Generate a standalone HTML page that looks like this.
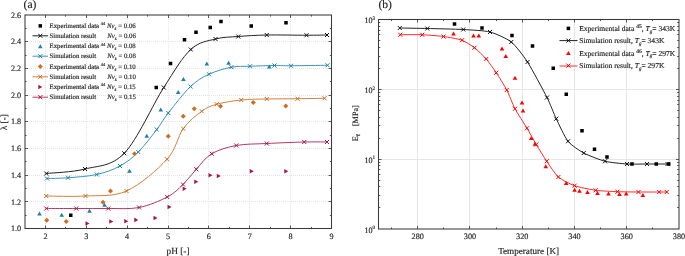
<!DOCTYPE html>
<html><head><meta charset="utf-8"><title>Figure</title>
<style>
html,body{margin:0;padding:0;background:#fff;}
body{width:685px;height:256px;overflow:hidden;}
svg{display:block;}
text{font-family:'Liberation Serif','Times New Roman',serif;font-size:8.2px;fill:#222;text-rendering:geometricPrecision;stroke:#222;stroke-width:0.15px;}
.lg{font-size:6.8px;}
.rg{font-size:7.55px;}
</style></head><body>
<svg width="685" height="256" viewBox="0 0 685 256">
<path d="M45.5,15V228.5M86.5,15V228.5M127.5,15V228.5M168.5,15V228.5M208.5,15V228.5M249.5,15V228.5M290.5,15V228.5M25,201.5H331.5M25,175.5H331.5M25,148.5H331.5M25,121.5H331.5M25,95.5H331.5M25,68.5H331.5M25,41.5H331.5" stroke="#e4e4e4" stroke-width="1" stroke-dasharray="1 1" fill="none"/>
<path d="M45.5,228.5v-3M45.5,15v3M65.5,228.5v-1.6M65.5,15v1.6M86.5,228.5v-3M86.5,15v3M106.5,228.5v-1.6M106.5,15v1.6M127.5,228.5v-3M127.5,15v3M147.5,228.5v-1.6M147.5,15v1.6M168.5,228.5v-3M168.5,15v3M188.5,228.5v-1.6M188.5,15v1.6M208.5,228.5v-3M208.5,15v3M229.5,228.5v-1.6M229.5,15v1.6M249.5,228.5v-3M249.5,15v3M270.5,228.5v-1.6M270.5,15v1.6M290.5,228.5v-3M290.5,15v3M311.5,228.5v-1.6M311.5,15v1.6M25,215.5h1.6M331.5,215.5h-1.6M25,201.5h3M331.5,201.5h-3M25,188.5h1.6M331.5,188.5h-1.6M25,175.5h3M331.5,175.5h-3M25,161.5h1.6M331.5,161.5h-1.6M25,148.5h3M331.5,148.5h-3M25,135.5h1.6M331.5,135.5h-1.6M25,121.5h3M331.5,121.5h-3M25,108.5h1.6M331.5,108.5h-1.6M25,95.5h3M331.5,95.5h-3M25,81.5h1.6M331.5,81.5h-1.6M25,68.5h3M331.5,68.5h-3M25,55.5h1.6M331.5,55.5h-1.6M25,41.5h3M331.5,41.5h-3M25,28.5h1.6M331.5,28.5h-1.6" stroke="#444" stroke-width="0.9" fill="none"/>
<rect x="25" y="15" width="306.5" height="213.5" fill="none" stroke="#3a3a3a" stroke-width="1.05"/>
<text x="45.43" y="238.8" text-anchor="middle">2</text>
<text x="86.3" y="238.8" text-anchor="middle">3</text>
<text x="127.17" y="238.8" text-anchor="middle">4</text>
<text x="168.03" y="238.8" text-anchor="middle">5</text>
<text x="208.9" y="238.8" text-anchor="middle">6</text>
<text x="249.77" y="238.8" text-anchor="middle">7</text>
<text x="290.63" y="238.8" text-anchor="middle">8</text>
<text x="331.5" y="238.8" text-anchor="middle">9</text>
<text x="21.2" y="231.2" text-anchor="end">1.0</text>
<text x="21.2" y="204.51" text-anchor="end">1.2</text>
<text x="21.2" y="177.82" text-anchor="end">1.4</text>
<text x="21.2" y="151.14" text-anchor="end">1.6</text>
<text x="21.2" y="124.45" text-anchor="end">1.8</text>
<text x="21.2" y="97.76" text-anchor="end">2.0</text>
<text x="21.2" y="71.07" text-anchor="end">2.2</text>
<text x="21.2" y="44.39" text-anchor="end">2.4</text>
<text x="21.2" y="17.7" text-anchor="end">2.6</text>
<path d="M46.25,173.5 C52.71,172.75 72,172.38 85,169 C98,165.62 111.12,166.83 124.25,153.25 C137.38,139.67 152.67,104.79 163.75,87.5 C174.83,70.21 182.12,57.58 190.75,49.5 C199.38,41.42 207.58,41.17 215.5,39 C223.42,36.83 229.71,37.17 238.25,36.5 C246.79,35.83 255.38,35.21 266.75,35 C278.12,34.79 296.46,35.25 306.5,35.25 C316.54,35.25 323.58,35.04 327,35" stroke="#222" stroke-width="1" fill="none"/>
<path d="M47,178.5 C50.5,178.38 59.71,178.42 68,177.75 C76.29,177.08 88.08,176.46 96.75,174.5 C105.42,172.54 113.08,169.75 120,166 C126.92,162.25 132.12,158.08 138.25,152 C144.38,145.92 151.75,136 156.75,129.5 C161.75,123 162.61,120.17 168.25,113 C173.89,105.83 183.81,92.96 190.6,86.5 C197.39,80.04 202.2,77.47 209,74.25 C215.8,71.03 224.57,68.53 231.4,67.2 C238.23,65.87 242.82,66.53 250,66.25 C257.18,65.97 267.67,65.58 274.5,65.5 C281.33,65.42 282.17,65.79 291,65.75 C299.83,65.71 321.42,65.33 327.5,65.25" stroke="#3a95bd" stroke-width="1" fill="none"/>
<path d="M46.25,196 C52.79,196 72.12,196.83 85.5,196 C98.88,195.17 112.92,197.12 126.5,191 C140.08,184.88 157.54,169.62 167,159.25 C176.46,148.88 177.46,136.75 183.25,128.75 C189.04,120.75 196.17,115.33 201.75,111.25 C207.33,107.17 210.17,106.12 216.75,104.25 C223.33,102.38 232.92,100.88 241.25,100 C249.58,99.12 257.38,99.21 266.75,99 C276.12,98.79 287.88,98.88 297.5,98.75 C307.12,98.62 320,98.33 324.5,98.25" stroke="#d4813a" stroke-width="1" fill="none"/>
<path d="M46.25,208.5 C51.25,208.5 65.92,208.5 76.25,208.5 C86.58,208.5 97.78,208.67 108.25,208.5 C118.72,208.33 129.28,209.42 139.1,207.5 C148.92,205.58 159.88,200.83 167.2,197 C174.52,193.17 178.16,189.12 183,184.5 C187.84,179.88 191.46,174.38 196.25,169.25 C201.04,164.12 205.08,157.71 211.75,153.75 C218.42,149.79 227.08,147.21 236.25,145.5 C245.42,143.79 255.42,144.08 266.75,143.5 C278.08,142.92 294.21,142.25 304.25,142 C314.29,141.75 323.21,142 327,142" stroke="#b23a62" stroke-width="1" fill="none"/>
<path d="M44.25,171.5L48.25,175.5M44.25,175.5L48.25,171.5" stroke="#111" stroke-width="1.0" fill="none"/>
<path d="M83,167L87,171M83,171L87,167" stroke="#111" stroke-width="1.0" fill="none"/>
<path d="M122.25,151.25L126.25,155.25M122.25,155.25L126.25,151.25" stroke="#111" stroke-width="1.0" fill="none"/>
<path d="M161.75,85.5L165.75,89.5M161.75,89.5L165.75,85.5" stroke="#111" stroke-width="1.0" fill="none"/>
<path d="M188.75,47.5L192.75,51.5M188.75,51.5L192.75,47.5" stroke="#111" stroke-width="1.0" fill="none"/>
<path d="M213.5,37L217.5,41M213.5,41L217.5,37" stroke="#111" stroke-width="1.0" fill="none"/>
<path d="M236.25,34.5L240.25,38.5M236.25,38.5L240.25,34.5" stroke="#111" stroke-width="1.0" fill="none"/>
<path d="M264.75,33L268.75,37M264.75,37L268.75,33" stroke="#111" stroke-width="1.0" fill="none"/>
<path d="M304.5,33.25L308.5,37.25M304.5,37.25L308.5,33.25" stroke="#111" stroke-width="1.0" fill="none"/>
<path d="M325,33L329,37M325,37L329,33" stroke="#111" stroke-width="1.0" fill="none"/>
<path d="M45,176.5L49,180.5M45,180.5L49,176.5" stroke="#1f80a8" stroke-width="1.0" fill="none"/>
<path d="M66,175.75L70,179.75M66,179.75L70,175.75" stroke="#1f80a8" stroke-width="1.0" fill="none"/>
<path d="M94.75,172.5L98.75,176.5M94.75,176.5L98.75,172.5" stroke="#1f80a8" stroke-width="1.0" fill="none"/>
<path d="M118,164L122,168M118,168L122,164" stroke="#1f80a8" stroke-width="1.0" fill="none"/>
<path d="M136.25,150L140.25,154M136.25,154L140.25,150" stroke="#1f80a8" stroke-width="1.0" fill="none"/>
<path d="M154.75,127.5L158.75,131.5M154.75,131.5L158.75,127.5" stroke="#1f80a8" stroke-width="1.0" fill="none"/>
<path d="M166.25,111L170.25,115M166.25,115L170.25,111" stroke="#1f80a8" stroke-width="1.0" fill="none"/>
<path d="M188.6,84.5L192.6,88.5M188.6,88.5L192.6,84.5" stroke="#1f80a8" stroke-width="1.0" fill="none"/>
<path d="M207,72.25L211,76.25M207,76.25L211,72.25" stroke="#1f80a8" stroke-width="1.0" fill="none"/>
<path d="M229.4,65.2L233.4,69.2M229.4,69.2L233.4,65.2" stroke="#1f80a8" stroke-width="1.0" fill="none"/>
<path d="M248,64.25L252,68.25M248,68.25L252,64.25" stroke="#1f80a8" stroke-width="1.0" fill="none"/>
<path d="M272.5,63.5L276.5,67.5M272.5,67.5L276.5,63.5" stroke="#1f80a8" stroke-width="1.0" fill="none"/>
<path d="M289,63.75L293,67.75M289,67.75L293,63.75" stroke="#1f80a8" stroke-width="1.0" fill="none"/>
<path d="M325.5,63.25L329.5,67.25M325.5,67.25L329.5,63.25" stroke="#1f80a8" stroke-width="1.0" fill="none"/>
<path d="M44.25,194L48.25,198M44.25,198L48.25,194" stroke="#cc6d22" stroke-width="1.0" fill="none"/>
<path d="M83.5,194L87.5,198M83.5,198L87.5,194" stroke="#cc6d22" stroke-width="1.0" fill="none"/>
<path d="M124.5,189L128.5,193M124.5,193L128.5,189" stroke="#cc6d22" stroke-width="1.0" fill="none"/>
<path d="M165,157.25L169,161.25M165,161.25L169,157.25" stroke="#cc6d22" stroke-width="1.0" fill="none"/>
<path d="M181.25,126.75L185.25,130.75M181.25,130.75L185.25,126.75" stroke="#cc6d22" stroke-width="1.0" fill="none"/>
<path d="M199.75,109.25L203.75,113.25M199.75,113.25L203.75,109.25" stroke="#cc6d22" stroke-width="1.0" fill="none"/>
<path d="M214.75,102.25L218.75,106.25M214.75,106.25L218.75,102.25" stroke="#cc6d22" stroke-width="1.0" fill="none"/>
<path d="M239.25,98L243.25,102M239.25,102L243.25,98" stroke="#cc6d22" stroke-width="1.0" fill="none"/>
<path d="M264.75,97L268.75,101M264.75,101L268.75,97" stroke="#cc6d22" stroke-width="1.0" fill="none"/>
<path d="M295.5,96.75L299.5,100.75M295.5,100.75L299.5,96.75" stroke="#cc6d22" stroke-width="1.0" fill="none"/>
<path d="M322.5,96.25L326.5,100.25M322.5,100.25L326.5,96.25" stroke="#cc6d22" stroke-width="1.0" fill="none"/>
<path d="M44.25,206.5L48.25,210.5M44.25,210.5L48.25,206.5" stroke="#a8154a" stroke-width="1.0" fill="none"/>
<path d="M74.25,206.5L78.25,210.5M74.25,210.5L78.25,206.5" stroke="#a8154a" stroke-width="1.0" fill="none"/>
<path d="M106.25,206.5L110.25,210.5M106.25,210.5L110.25,206.5" stroke="#a8154a" stroke-width="1.0" fill="none"/>
<path d="M137.1,205.5L141.1,209.5M137.1,209.5L141.1,205.5" stroke="#a8154a" stroke-width="1.0" fill="none"/>
<path d="M165.2,195L169.2,199M165.2,199L169.2,195" stroke="#a8154a" stroke-width="1.0" fill="none"/>
<path d="M181,182.5L185,186.5M181,186.5L185,182.5" stroke="#a8154a" stroke-width="1.0" fill="none"/>
<path d="M194.25,167.25L198.25,171.25M194.25,171.25L198.25,167.25" stroke="#a8154a" stroke-width="1.0" fill="none"/>
<path d="M209.75,151.75L213.75,155.75M209.75,155.75L213.75,151.75" stroke="#a8154a" stroke-width="1.0" fill="none"/>
<path d="M234.25,143.5L238.25,147.5M234.25,147.5L238.25,143.5" stroke="#a8154a" stroke-width="1.0" fill="none"/>
<path d="M264.75,141.5L268.75,145.5M264.75,145.5L268.75,141.5" stroke="#a8154a" stroke-width="1.0" fill="none"/>
<path d="M302.25,140L306.25,144M302.25,144L306.25,140" stroke="#a8154a" stroke-width="1.0" fill="none"/>
<path d="M325,140L329,144M325,144L329,140" stroke="#a8154a" stroke-width="1.0" fill="none"/>
<rect x="69" y="213.5" width="3.5" height="3.5" fill="#000"/>
<rect x="154.5" y="85.75" width="3.5" height="3.5" fill="#000"/>
<rect x="168.75" y="61.75" width="3.5" height="3.5" fill="#000"/>
<rect x="182.75" y="38" width="3.5" height="3.5" fill="#000"/>
<rect x="194.25" y="30.5" width="3.5" height="3.5" fill="#000"/>
<rect x="208.5" y="25.75" width="3.5" height="3.5" fill="#000"/>
<rect x="219.25" y="19.75" width="3.5" height="3.5" fill="#000"/>
<rect x="249.5" y="24.25" width="3.5" height="3.5" fill="#000"/>
<rect x="284.25" y="21" width="3.5" height="3.5" fill="#000"/>
<path d="M39.5,211.5L41.8,215.5L37.2,215.5Z" fill="#1f80a8"/>
<path d="M61.75,212.75L64.05,216.75L59.45,216.75Z" fill="#1f80a8"/>
<path d="M89.5,208.75L91.8,212.75L87.2,212.75Z" fill="#1f80a8"/>
<path d="M104.5,202.75L106.8,206.75L102.2,206.75Z" fill="#1f80a8"/>
<path d="M129.5,168.75L131.8,172.75L127.2,172.75Z" fill="#1f80a8"/>
<path d="M146.75,133.75L149.05,137.75L144.45,137.75Z" fill="#1f80a8"/>
<path d="M160.75,107.5L163.05,111.5L158.45,111.5Z" fill="#1f80a8"/>
<path d="M178.2,90L180.5,94L175.9,94Z" fill="#1f80a8"/>
<path d="M183.4,77L185.7,81L181.1,81Z" fill="#1f80a8"/>
<path d="M206.8,61.4L209.1,65.4L204.5,65.4Z" fill="#1f80a8"/>
<path d="M228.6,60.7L230.9,64.7L226.3,64.7Z" fill="#1f80a8"/>
<path d="M269.25,64.5L271.55,68.5L266.95,68.5Z" fill="#1f80a8"/>
<path d="M46.75,217.75L49.25,220.25L46.75,222.75L44.25,220.25Z" fill="#cc6d22"/>
<path d="M66.25,219L68.75,221.5L66.25,224L63.75,221.5Z" fill="#cc6d22"/>
<path d="M103,199.75L105.5,202.25L103,204.75L100.5,202.25Z" fill="#cc6d22"/>
<path d="M110.5,188.5L113,191L110.5,193.5L108,191Z" fill="#cc6d22"/>
<path d="M134.5,151.25L137,153.75L134.5,156.25L132,153.75Z" fill="#cc6d22"/>
<path d="M168.25,133.75L170.75,136.25L168.25,138.75L165.75,136.25Z" fill="#cc6d22"/>
<path d="M183.25,113.75L185.75,116.25L183.25,118.75L180.75,116.25Z" fill="#cc6d22"/>
<path d="M194.25,106.25L196.75,108.75L194.25,111.25L191.75,108.75Z" fill="#cc6d22"/>
<path d="M220.5,103.75L223,106.25L220.5,108.75L218,106.25Z" fill="#cc6d22"/>
<path d="M253.25,100L255.75,102.5L253.25,105L250.75,102.5Z" fill="#cc6d22"/>
<path d="M285.75,103.5L288.25,106L285.75,108.5L283.25,106Z" fill="#cc6d22"/>
<path d="M89.5,223.5L85.5,221.2L85.5,225.8Z" fill="#a8154a"/>
<path d="M113.25,221.5L109.25,219.2L109.25,223.8Z" fill="#a8154a"/>
<path d="M128.25,221.3L124.25,219L124.25,223.6Z" fill="#a8154a"/>
<path d="M138.25,219.9L134.25,217.6L134.25,222.2Z" fill="#a8154a"/>
<path d="M157.5,218L153.5,215.7L153.5,220.3Z" fill="#a8154a"/>
<path d="M171.5,207L167.5,204.7L167.5,209.3Z" fill="#a8154a"/>
<path d="M186.6,188.75L182.6,186.45L182.6,191.05Z" fill="#a8154a"/>
<path d="M198.25,181.7L194.25,179.4L194.25,184Z" fill="#a8154a"/>
<path d="M212.5,175.3L208.5,173L208.5,177.6Z" fill="#a8154a"/>
<path d="M220.75,176L216.75,173.7L216.75,178.3Z" fill="#a8154a"/>
<path d="M253.75,171.25L249.75,168.95L249.75,173.55Z" fill="#a8154a"/>
<path d="M288.25,171.25L284.25,168.95L284.25,173.55Z" fill="#a8154a"/>
<rect x="38.55" y="24.15" width="3.5" height="3.5" fill="#000"/>
<text class="lg" x="49.5" y="27.9">Experimental data <tspan font-size="4.5" dy="-2.6">44</tspan><tspan dy="2.6"> </tspan><tspan font-style="italic">Nv</tspan><tspan font-style="italic" font-size="5" dy="2">s</tspan><tspan dy="-2"> = 0.06</tspan></text>
<path d="M32.5,35.8H48" stroke="#222" stroke-width="1"/>
<path d="M38.3,33.8L42.3,37.8M38.3,37.8L42.3,33.8" stroke="#111" stroke-width="1.0" fill="none"/>
<text class="lg" x="49.5" y="37.8">Simulation result</text>
<text class="lg" x="107.2" y="37.8"><tspan font-style="italic">Nv</tspan><tspan font-style="italic" font-size="5" dy="2">s</tspan><tspan dy="-2"> = 0.06</tspan></text>
<path d="M40.3,44.2L42.6,48.2L38,48.2Z" fill="#1f80a8"/>
<text class="lg" x="49.5" y="48.2">Experimental data <tspan font-size="4.5" dy="-2.6">44</tspan><tspan dy="2.6"> </tspan><tspan font-style="italic">Nv</tspan><tspan font-style="italic" font-size="5" dy="2">s</tspan><tspan dy="-2"> = 0.08</tspan></text>
<path d="M32.5,56.2H48" stroke="#3a95bd" stroke-width="1"/>
<path d="M38.3,54.2L42.3,58.2M38.3,58.2L42.3,54.2" stroke="#1f80a8" stroke-width="1.0" fill="none"/>
<text class="lg" x="49.5" y="58.2">Simulation result</text>
<text class="lg" x="107.2" y="58.2"><tspan font-style="italic">Nv</tspan><tspan font-style="italic" font-size="5" dy="2">s</tspan><tspan dy="-2"> = 0.08</tspan></text>
<path d="M40.3,64.1L42.8,66.6L40.3,69.1L37.8,66.6Z" fill="#cc6d22"/>
<text class="lg" x="49.5" y="68.6">Experimental data <tspan font-size="4.5" dy="-2.6">44</tspan><tspan dy="2.6"> </tspan><tspan font-style="italic">Nv</tspan><tspan font-style="italic" font-size="5" dy="2">s</tspan><tspan dy="-2"> = 0.10</tspan></text>
<path d="M32.5,76.8H48" stroke="#d4813a" stroke-width="1"/>
<path d="M38.3,74.8L42.3,78.8M38.3,78.8L42.3,74.8" stroke="#cc6d22" stroke-width="1.0" fill="none"/>
<text class="lg" x="49.5" y="78.8">Simulation result</text>
<text class="lg" x="107.2" y="78.8"><tspan font-style="italic">Nv</tspan><tspan font-style="italic" font-size="5" dy="2">s</tspan><tspan dy="-2"> = 0.10</tspan></text>
<path d="M42.3,87L38.3,84.7L38.3,89.3Z" fill="#a8154a"/>
<text class="lg" x="49.5" y="89">Experimental data <tspan font-size="4.5" dy="-2.6">44</tspan><tspan dy="2.6"> </tspan><tspan font-style="italic">Nv</tspan><tspan font-style="italic" font-size="5" dy="2">s</tspan><tspan dy="-2"> = 0.15</tspan></text>
<path d="M32.5,97.2H48" stroke="#b23a62" stroke-width="1"/>
<path d="M38.3,95.2L42.3,99.2M38.3,99.2L42.3,95.2" stroke="#a8154a" stroke-width="1.0" fill="none"/>
<text class="lg" x="49.5" y="99.2">Simulation result</text>
<text class="lg" x="107.2" y="99.2"><tspan font-style="italic">Nv</tspan><tspan font-style="italic" font-size="5" dy="2">s</tspan><tspan dy="-2"> = 0.15</tspan></text>
<text x="23.6" y="8.4" style="font-size:11.6px">(a)</text>
<text x="178" y="253.8" style="font-size:9.3px" text-anchor="middle">pH [-]</text>
<text transform="translate(7.3,122.2) rotate(-90)" style="font-size:9.2px" text-anchor="middle">λ [-]</text>
<path d="M417.5,19.5V229M469.5,19.5V229M522.5,19.5V229M574.5,19.5V229M626.5,19.5V229M378.5,159.5H679M378.5,89.5H679" stroke="#e6e6e6" stroke-width="1" fill="none"/>
<path d="M391.5,229v-1.6M391.5,19.5v1.6M417.5,229v-3M417.5,19.5v3M443.5,229v-1.6M443.5,19.5v1.6M469.5,229v-3M469.5,19.5v3M496.5,229v-1.6M496.5,19.5v1.6M522.5,229v-3M522.5,19.5v3M548.5,229v-1.6M548.5,19.5v1.6M574.5,229v-3M574.5,19.5v3M600.5,229v-1.6M600.5,19.5v1.6M626.5,229v-3M626.5,19.5v3M652.5,229v-1.6M652.5,19.5v1.6M378.5,207.5h1.8M679,207.5h-1.8M378.5,195.5h1.8M679,195.5h-1.8M378.5,186.5h1.8M679,186.5h-1.8M378.5,180.5h1.8M679,180.5h-1.8M378.5,174.5h1.8M679,174.5h-1.8M378.5,169.5h1.8M679,169.5h-1.8M378.5,165.5h1.8M679,165.5h-1.8M378.5,162.5h1.8M679,162.5h-1.8M378.5,159.5h3M679,159.5h-3M378.5,138.5h1.8M679,138.5h-1.8M378.5,125.5h1.8M679,125.5h-1.8M378.5,117.5h1.8M679,117.5h-1.8M378.5,110.5h1.8M679,110.5h-1.8M378.5,104.5h1.8M679,104.5h-1.8M378.5,100.5h1.8M679,100.5h-1.8M378.5,96.5h1.8M679,96.5h-1.8M378.5,92.5h1.8M679,92.5h-1.8M378.5,89.5h3M679,89.5h-3M378.5,68.5h1.8M679,68.5h-1.8M378.5,56.5h1.8M679,56.5h-1.8M378.5,47.5h1.8M679,47.5h-1.8M378.5,40.5h1.8M679,40.5h-1.8M378.5,34.5h1.8M679,34.5h-1.8M378.5,30.5h1.8M679,30.5h-1.8M378.5,26.5h1.8M679,26.5h-1.8M378.5,22.5h1.8M679,22.5h-1.8" stroke="#444" stroke-width="0.9" fill="none"/>
<rect x="378.5" y="19.5" width="300.5" height="209.5" fill="none" stroke="#3a3a3a" stroke-width="1.05"/>
<text x="417.7" y="238.8" text-anchor="middle">280</text>
<text x="469.96" y="238.8" text-anchor="middle">300</text>
<text x="522.22" y="238.8" text-anchor="middle">320</text>
<text x="574.48" y="238.8" text-anchor="middle">340</text>
<text x="626.74" y="238.8" text-anchor="middle">360</text>
<text x="679" y="238.8" text-anchor="middle">380</text>
<text x="364.4" y="232.5">10<tspan font-size="5.2" dy="-3.3">0</tspan></text>
<text x="364.4" y="162.67">10<tspan font-size="5.2" dy="-3.3">1</tspan></text>
<text x="364.4" y="92.83">10<tspan font-size="5.2" dy="-3.3">2</tspan></text>
<text x="364.4" y="23">10<tspan font-size="5.2" dy="-3.3">3</tspan></text>
<path d="M399.75,28 C402.81,28.06 420.19,28.33 427.25,28.5 C434.31,28.67 456.28,29.11 463.25,29.5 C470.22,29.89 484.67,30.61 490,32 C495.33,33.39 507.08,38.67 511.25,42 C515.42,45.33 523.53,55.83 527.5,62 C531.47,68.17 543.81,91.19 547,97.5 C550.19,103.81 553.92,113.89 556.25,118.75 C558.58,123.61 564.94,137.44 568,141.25 C571.06,145.06 579.64,150.78 583.75,153 C587.86,155.22 600.19,160.03 605,161.25 C609.81,162.47 622.33,163.69 627,164 C631.67,164.31 642.5,164 647,164 C651.5,164 665.22,164 667.5,164" stroke="#222" stroke-width="1" fill="none"/>
<path d="M400.25,34.75 C402.69,34.75 417.44,34.56 422.25,34.75 C427.06,34.94 439.08,35.89 443.5,36.5 C447.92,37.11 458.56,39 462,40.25 C465.44,41.5 471.81,45.67 474.5,47.75 C477.19,49.83 483.83,56.22 486.25,59 C488.67,61.78 493.97,69.31 496.25,72.75 C498.53,76.19 504.67,86 506.75,90 C508.83,94 512.75,104.5 515,108.75 C517.25,113 524.64,124.28 527,128.25 C529.36,132.22 534.06,140.83 536.25,144.5 C538.44,148.17 544.29,157.64 546.75,161.25 C549.21,164.86 555.31,174.28 558.4,177 C561.49,179.72 570.47,184.22 574.6,185.7 C578.73,187.18 590.84,189.63 595.6,190.3 C600.36,190.97 612.63,191.51 617.4,191.7 C622.17,191.89 633.85,191.97 638.5,192 C643.15,192.03 656.11,192 659.25,192 C662.39,192 665.92,192 666.75,192" stroke="#ff2a2a" stroke-width="1" fill="none"/>
<path d="M397.75,26L401.75,30M397.75,30L401.75,26" stroke="#111" stroke-width="1.0" fill="none"/>
<path d="M425.25,26.5L429.25,30.5M425.25,30.5L429.25,26.5" stroke="#111" stroke-width="1.0" fill="none"/>
<path d="M461.25,27.5L465.25,31.5M461.25,31.5L465.25,27.5" stroke="#111" stroke-width="1.0" fill="none"/>
<path d="M488,30L492,34M488,34L492,30" stroke="#111" stroke-width="1.0" fill="none"/>
<path d="M509.25,40L513.25,44M509.25,44L513.25,40" stroke="#111" stroke-width="1.0" fill="none"/>
<path d="M525.5,60L529.5,64M525.5,64L529.5,60" stroke="#111" stroke-width="1.0" fill="none"/>
<path d="M545,95.5L549,99.5M545,99.5L549,95.5" stroke="#111" stroke-width="1.0" fill="none"/>
<path d="M554.25,116.75L558.25,120.75M554.25,120.75L558.25,116.75" stroke="#111" stroke-width="1.0" fill="none"/>
<path d="M566,139.25L570,143.25M566,143.25L570,139.25" stroke="#111" stroke-width="1.0" fill="none"/>
<path d="M581.75,151L585.75,155M581.75,155L585.75,151" stroke="#111" stroke-width="1.0" fill="none"/>
<path d="M603,159.25L607,163.25M603,163.25L607,159.25" stroke="#111" stroke-width="1.0" fill="none"/>
<path d="M625,162L629,166M625,166L629,162" stroke="#111" stroke-width="1.0" fill="none"/>
<path d="M645,162L649,166M645,166L649,162" stroke="#111" stroke-width="1.0" fill="none"/>
<path d="M665.5,162L669.5,166M665.5,166L669.5,162" stroke="#111" stroke-width="1.0" fill="none"/>
<path d="M398.25,32.75L402.25,36.75M398.25,36.75L402.25,32.75" stroke="#ff0000" stroke-width="1.0" fill="none"/>
<path d="M420.25,32.75L424.25,36.75M420.25,36.75L424.25,32.75" stroke="#ff0000" stroke-width="1.0" fill="none"/>
<path d="M441.5,34.5L445.5,38.5M441.5,38.5L445.5,34.5" stroke="#ff0000" stroke-width="1.0" fill="none"/>
<path d="M460,38.25L464,42.25M460,42.25L464,38.25" stroke="#ff0000" stroke-width="1.0" fill="none"/>
<path d="M472.5,45.75L476.5,49.75M472.5,49.75L476.5,45.75" stroke="#ff0000" stroke-width="1.0" fill="none"/>
<path d="M484.25,57L488.25,61M484.25,61L488.25,57" stroke="#ff0000" stroke-width="1.0" fill="none"/>
<path d="M494.25,70.75L498.25,74.75M494.25,74.75L498.25,70.75" stroke="#ff0000" stroke-width="1.0" fill="none"/>
<path d="M504.75,88L508.75,92M504.75,92L508.75,88" stroke="#ff0000" stroke-width="1.0" fill="none"/>
<path d="M513,106.75L517,110.75M513,110.75L517,106.75" stroke="#ff0000" stroke-width="1.0" fill="none"/>
<path d="M525,126.25L529,130.25M525,130.25L529,126.25" stroke="#ff0000" stroke-width="1.0" fill="none"/>
<path d="M534.25,142.5L538.25,146.5M534.25,146.5L538.25,142.5" stroke="#ff0000" stroke-width="1.0" fill="none"/>
<path d="M544.75,159.25L548.75,163.25M544.75,163.25L548.75,159.25" stroke="#ff0000" stroke-width="1.0" fill="none"/>
<path d="M556.4,175L560.4,179M556.4,179L560.4,175" stroke="#ff0000" stroke-width="1.0" fill="none"/>
<path d="M572.6,183.7L576.6,187.7M572.6,187.7L576.6,183.7" stroke="#ff0000" stroke-width="1.0" fill="none"/>
<path d="M593.6,188.3L597.6,192.3M593.6,192.3L597.6,188.3" stroke="#ff0000" stroke-width="1.0" fill="none"/>
<path d="M615.4,189.7L619.4,193.7M615.4,193.7L619.4,189.7" stroke="#ff0000" stroke-width="1.0" fill="none"/>
<path d="M636.5,190L640.5,194M636.5,194L640.5,190" stroke="#ff0000" stroke-width="1.0" fill="none"/>
<path d="M657.25,190L661.25,194M657.25,194L661.25,190" stroke="#ff0000" stroke-width="1.0" fill="none"/>
<path d="M664.75,190L668.75,194M664.75,194L668.75,190" stroke="#ff0000" stroke-width="1.0" fill="none"/>
<rect x="452.75" y="22.25" width="3.5" height="3.5" fill="#000"/>
<rect x="480.25" y="26.25" width="3.5" height="3.5" fill="#000"/>
<rect x="510.25" y="33.75" width="3.5" height="3.5" fill="#000"/>
<rect x="530.75" y="44.25" width="3.5" height="3.5" fill="#000"/>
<rect x="551.5" y="66.5" width="3.5" height="3.5" fill="#000"/>
<rect x="564.5" y="92.5" width="3.5" height="3.5" fill="#000"/>
<rect x="580.25" y="129" width="3.5" height="3.5" fill="#000"/>
<rect x="592.75" y="147.5" width="3.5" height="3.5" fill="#000"/>
<rect x="605.25" y="155.25" width="3.5" height="3.5" fill="#000"/>
<rect x="630.25" y="162.25" width="3.5" height="3.5" fill="#000"/>
<rect x="654.5" y="162.25" width="3.5" height="3.5" fill="#000"/>
<rect x="667" y="162.25" width="3.5" height="3.5" fill="#000"/>
<path d="M453.5,31.5L455.8,35.5L451.2,35.5Z" fill="#ff0000"/>
<path d="M473.5,33.4L475.8,37.4L471.2,37.4Z" fill="#ff0000"/>
<path d="M478.8,33.4L481.1,37.4L476.5,37.4Z" fill="#ff0000"/>
<path d="M502,46.5L504.3,50.5L499.7,50.5Z" fill="#ff0000"/>
<path d="M505.75,54L508.05,58L503.45,58Z" fill="#ff0000"/>
<path d="M515,75.75L517.3,79.75L512.7,79.75Z" fill="#ff0000"/>
<path d="M522,100.5L524.3,104.5L519.7,104.5Z" fill="#ff0000"/>
<path d="M523,108.5L525.3,112.5L520.7,112.5Z" fill="#ff0000"/>
<path d="M531.25,136L533.55,140L528.95,140Z" fill="#ff0000"/>
<path d="M535,141.75L537.3,145.75L532.7,145.75Z" fill="#ff0000"/>
<path d="M545.75,164.25L548.05,168.25L543.45,168.25Z" fill="#ff0000"/>
<path d="M566.2,181L568.5,185L563.9,185Z" fill="#ff0000"/>
<path d="M574.6,187.7L576.9,191.7L572.3,191.7Z" fill="#ff0000"/>
<path d="M579.5,188.7L581.8,192.7L577.2,192.7Z" fill="#ff0000"/>
<path d="M587.5,190.1L589.8,194.1L585.2,194.1Z" fill="#ff0000"/>
<path d="M597.5,191.1L599.8,195.1L595.2,195.1Z" fill="#ff0000"/>
<path d="M608.5,191.5L610.8,195.5L606.2,195.5Z" fill="#ff0000"/>
<path d="M619.5,191.9L621.8,195.9L617.2,195.9Z" fill="#ff0000"/>
<path d="M626.2,191.5L628.5,195.5L623.9,195.5Z" fill="#ff0000"/>
<path d="M642.9,192.9L645.2,196.9L640.6,196.9Z" fill="#ff0000"/>
<rect x="566.65" y="26.65" width="3.5" height="3.5" fill="#000"/>
<path d="M559.5,40.6H577.5" stroke="#222" stroke-width="1"/>
<path d="M566.4,38.6L570.4,42.6M566.4,42.6L570.4,38.6" stroke="#111" stroke-width="1.0" fill="none"/>
<path d="M568.4,51L570.7,55L566.1,55Z" fill="#ff0000"/>
<path d="M559.5,66H577.5" stroke="#ff2a2a" stroke-width="1"/>
<path d="M566.4,63.6L570.4,67.6M566.4,67.6L570.4,63.6" stroke="#ff0000" stroke-width="1.0" fill="none"/>
<text class="rg" x="579.2" y="31">Experimental data <tspan font-size="5.6" dy="-3">45</tspan><tspan dy="3">, </tspan><tspan font-style="italic">T</tspan><tspan font-style="italic" font-size="5" dy="1.5">g</tspan><tspan dy="-1.5">= 343K</tspan></text>
<text class="rg" x="579.2" y="43.2">Simulation result, <tspan font-style="italic">T</tspan><tspan font-style="italic" font-size="5" dy="1.5">g</tspan><tspan dy="-1.5">= 343K</tspan></text>
<text class="rg" x="579.2" y="55.6">Experimental data <tspan font-size="5.6" dy="-3">46</tspan><tspan dy="3">, </tspan><tspan font-style="italic">T</tspan><tspan font-style="italic" font-size="5" dy="1.5">g</tspan><tspan dy="-1.5">= 297K</tspan></text>
<text class="rg" x="579.2" y="68.2">Simulation result, <tspan font-style="italic">T</tspan><tspan font-style="italic" font-size="5" dy="1.5">g</tspan><tspan dy="-1.5">= 297K</tspan></text>
<text x="378.4" y="8.4" style="font-size:11.6px">(b)</text>
<text x="528.6" y="253.9" style="font-size:9.15px" text-anchor="middle">Temperature [K]</text>
<text transform="translate(358.1,141.2) rotate(-90)" style="font-size:8.4px">E<tspan font-size="5.6" dy="1.6">f</tspan></text>
<text transform="translate(358.1,105.2) rotate(-90)" style="font-size:8.2px" text-anchor="end">[MPa]</text>
</svg>
</body></html>
